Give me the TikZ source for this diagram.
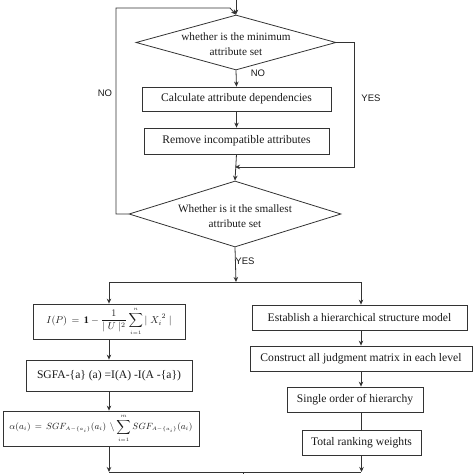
\documentclass[tikz,border=0pt]{standalone}
\usepackage{fontspec}
\setmainfont{Liberation Serif}
\newfontfamily\labelfont{Liberation Sans}
\usetikzlibrary{shapes.geometric,arrows.meta}
\tikzset{
  box/.style={draw=black!80, line width=0.8pt, rectangle, inner sep=0pt, font=\fontsize{11.6}{13}\selectfont, text=black!90},
  dia/.style={draw=black!80, line width=0.8pt, diamond, inner sep=0pt},
  diatext/.style={align=center, font=\fontsize{11.2}{15}\selectfont, text=black!90},
  lbl/.style={font=\labelfont\fontsize{9.5}{10}\selectfont, text=black!90},
  conn/.style={draw=black!80, line width=0.8pt},
  arr/.style={conn, -{Stealth[length=5pt,width=4.5pt]}}
}
\newcommand{\sgfsub}{\scriptscriptstyle A-\{a_i\}}
\begin{document}
\begin{tikzpicture}[x=1pt,y=-1pt]
\useasboundingbox (0,0) rectangle (474,474);
% diamonds
\node[dia, minimum width=200, minimum height=55] (d1) at (236,42.5) {};
\node[diatext] (d1t) at (236,44) {whether is the minimum\\attribute set};
\node[box, minimum width=189, minimum height=24] (b1) at (236.5,99) {Calculate attribute dependencies};
\node[box, minimum width=185, minimum height=26] (b2) at (236.5,141) {Remove incompatible attributes};
\node[dia, minimum width=212, minimum height=66] (d2) at (235,214) {};
\node[diatext] (d2t) at (235,216) {Whether is it the smallest\\attribute set};
% left branch
\node[box, minimum width=152, minimum height=35, font=\fontsize{10}{12}\selectfont] (ba) at (109,321.5)
  {$\displaystyle I(P)\,=\,\mathbf{1}-\frac{1}{|\;U\;|^{2}}\sum_{\scriptscriptstyle i=1}^{\scriptscriptstyle n}|\;X_{i}^{\;2}\;|$};
\node[box, minimum width=166, minimum height=31] (bb) at (109,375.5) {SGFA-\{a\} (a) =I(A) -I(A -\{a\})};
\node[box, minimum width=196, minimum height=35, font=\fontsize{9}{11}\selectfont] (bc) at (101,428.5)
  {$\displaystyle\alpha(a_{i})\,=\,SGF_{\sgfsub}(a_{i})\,\setminus\sum_{\scriptscriptstyle i=1}^{\scriptscriptstyle m}SGF_{\sgfsub}(a_{i})$};
% right branch
\node[box, minimum width=215, minimum height=25] (bd) at (359.5,317.5) {Establish a hierarchical structure model};
\node[box, minimum width=222, minimum height=25] (be) at (361,358.5) {Construct all judgment matrix in each level};
\node[box, minimum width=136, minimum height=25] (bf) at (355,399.5) {Single order of hierarchy};
\node[box, minimum width=119, minimum height=25] (bg) at (361.5,442.5) {Total ranking weights};
% labels
\node[lbl] (no1) at (258,73) {NO};
\node[lbl] (no2) at (105,93) {NO};
\node[lbl] (yes1) at (371,98) {YES};
\node[lbl] (yes2) at (245,261) {YES};
% coordinates
\coordinate (top) at (236,0);
\coordinate (lp) at (116,8);
\coordinate (lpe) at (230,8);
\coordinate (rl) at (354,167);
\coordinate (bl) at (109,282);
\coordinate (br) at (361,282);
\coordinate (bj) at (236,282);
\coordinate (ml) at (109,472);
\coordinate (mr) at (361,472);
\coordinate (mj) at (243,472);
\coordinate (mo) at (243,474);
% connectors
\draw[arr] (top) -- (d1.north);
\draw[arr] (d2.west) -| (lp) -- (lpe) -- (d1.north);
\draw[arr] (d1.south) -- (b1.north);
\draw[arr] (b1.south) -- (b2.north);
\draw[arr] (b2.south) -- (d2.north);
\draw[arr] (d1.east) -| (rl) -- (rl -| d2.north);
\draw[arr] (d2.south) -- (bj);
\draw[conn] (bl) -- (br);
\draw[arr] (bl) -- (ba.north);
\draw[arr] (br) -- (br |- bd.north);
\draw[arr] (ba.south) -- (bb.north);
\draw[arr] (bb.south) -- (bb.south |- bc.north);
\draw[arr] (bb.south |- bc.south) -- (ml);
\draw[arr] (bd.south -| be.north) -- (be.north);
\draw[arr] (be.south) -- (be.south |- bf.north);
\draw[conn] (be.south |- bf.south) -- (be.south |- bg.north);
\draw[arr] (bg.south) -- (bg.south |- mr);
\draw[conn] (ml) -- (mr);
\draw[conn] (mj) -- (mo);
\end{tikzpicture}
\end{document}
